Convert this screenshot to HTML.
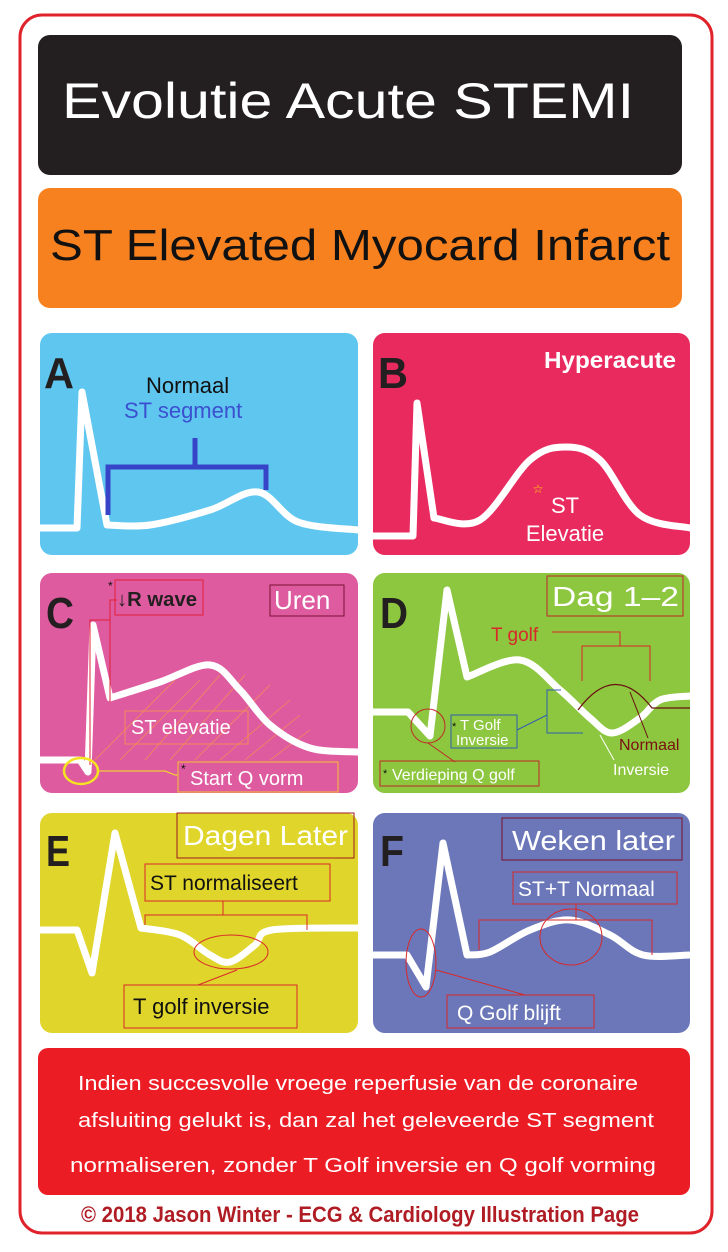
<!DOCTYPE html>
<html><head><meta charset="utf-8"><style>
html,body{margin:0;padding:0;background:#fff;width:728px;height:1252px;overflow:hidden}
svg{display:block}
text{font-family:"Liberation Sans",sans-serif}
</style></head><body>
<svg id="s" width="728" height="1252" viewBox="0 0 728 1252">
<rect x="20" y="15" width="692" height="1218" rx="22" fill="#fff" stroke="#e0222a" stroke-width="3"/>
<rect x="38" y="35" width="644" height="140" rx="12" fill="#231f20"/>
<text x="62" y="118" fill="#fff" font-size="50" textLength="572" lengthAdjust="spacingAndGlyphs">Evolutie Acute STEMI</text>
<rect x="38" y="188" width="644" height="120" rx="12" fill="#f7801f"/>
<text x="50" y="260" fill="#111" font-size="44" textLength="620" lengthAdjust="spacingAndGlyphs">ST Elevated Myocard Infarct</text>

<rect x="40" y="333" width="318" height="222" rx="12" fill="#5ec6ef"/>
<rect x="373" y="333" width="317" height="222" rx="12" fill="#e92a5f"/>
<rect x="40" y="573" width="318" height="220" rx="12" fill="#de5ba0"/>
<rect x="373" y="573" width="317" height="220" rx="12" fill="#8dc63f"/>
<rect x="40" y="813" width="318" height="220" rx="12" fill="#e0d52a"/>
<rect x="373" y="813" width="317" height="220" rx="12" fill="#6b77b9"/>

<g font-family="Liberation Sans" font-weight="bold" fill="#231f20" font-size="44">
<text x="44" y="388" textLength="30" lengthAdjust="spacingAndGlyphs">A</text>
<text x="378" y="388" textLength="30" lengthAdjust="spacingAndGlyphs">B</text>
<text x="46" y="628" textLength="28" lengthAdjust="spacingAndGlyphs">C</text>
<text x="380" y="628" textLength="28" lengthAdjust="spacingAndGlyphs">D</text>
<text x="46" y="866" textLength="24" lengthAdjust="spacingAndGlyphs">E</text>
<text x="380" y="866" textLength="24" lengthAdjust="spacingAndGlyphs">F</text>
</g>

<g stroke="#f28a5a" stroke-width="1" opacity="0.8">
<line x1="95" y1="760" x2="175" y2="680"/><line x1="120" y1="760" x2="200" y2="680"/><line x1="145" y1="760" x2="220" y2="675"/>
<line x1="170" y1="760" x2="245" y2="675"/><line x1="195" y1="760" x2="270" y2="685"/><line x1="220" y1="760" x2="290" y2="700"/>
<line x1="245" y1="760" x2="300" y2="715"/><line x1="270" y1="760" x2="310" y2="730"/>
</g>

<g id="waves" fill="none" stroke="#fff" stroke-width="7" stroke-linejoin="round" stroke-linecap="round"></g>

<text x="146" y="393" font-size="22" fill="#111">Normaal</text>
<text x="124" y="418" font-size="22" fill="#3b4fd0">ST segment</text>
<path d="M108,515 V467 H266 V490 M195,467 V438" stroke="#3844c8" stroke-width="5" fill="none"/>

<text x="676" y="368" font-size="23" font-weight="bold" fill="#fff" text-anchor="end" textLength="132" lengthAdjust="spacingAndGlyphs">Hyperacute</text>
<text x="538" y="493" font-size="12" fill="#ffe000" text-anchor="middle">☆</text>
<text x="565" y="513" font-size="22" fill="#fff" text-anchor="middle">ST</text>
<text x="565" y="541" font-size="22" fill="#fff" text-anchor="middle">Elevatie</text>

<path d="M90,765 V620 H110 V600 H117 M110,620 V702" stroke="#e0223a" stroke-width="1" fill="none"/>
<rect x="115" y="580" width="88" height="35" fill="none" stroke="#e0223a"/>
<text x="108" y="590" font-size="12" fill="#111">*</text>
<text x="117" y="606" font-size="20" font-weight="bold" fill="#231f20" textLength="80" lengthAdjust="spacingAndGlyphs">↓R wave</text>
<rect x="270" y="585" width="74" height="31" fill="none" stroke="#7a1030"/>
<text x="274" y="609" font-size="26" fill="#fff">Uren</text>
<rect x="125" y="711" width="123" height="33" fill="none" stroke="#f28a5a"/>
<text x="131" y="734" font-size="20" fill="#fff">ST elevatie</text>
<ellipse cx="81" cy="771" rx="17" ry="13" fill="none" stroke="#f5e520" stroke-width="2.5"/>
<path d="M98,771 H165 L175,775 H178" stroke="#f5e520" stroke-width="1" fill="none"/>
<rect x="178" y="762" width="160" height="30" fill="none" stroke="#f5c030"/>
<text x="181" y="773" font-size="12" fill="#111">*</text>
<text x="190" y="785" font-size="20" fill="#fff">Start Q vorm</text>

<rect x="547" y="576" width="136" height="40" fill="none" stroke="#c0282a"/>
<text x="552" y="606" font-size="28" fill="#fff" textLength="127" lengthAdjust="spacingAndGlyphs">Dag 1–2</text>
<text x="491" y="641" font-size="19" fill="#d8282a">T golf</text>
<path d="M552,632 H620 V646 M582,681 V646 H650 V681" stroke="#d8282a" stroke-width="1" fill="none"/>
<path d="M578,710 Q615,660 652,708 H690" stroke="#6a1010" stroke-width="1.2" fill="none"/>
<path d="M630,692 L648,738" stroke="#6a1010" stroke-width="1" />
<text x="619" y="750" font-size="16" fill="#7a1010">Normaal</text>
<path d="M600,735 L614,760" stroke="#fff" stroke-width="1"/>
<text x="613" y="775" font-size="16" fill="#fff">Inversie</text>
<ellipse cx="428" cy="726" rx="17" ry="17" fill="none" stroke="#c0282a" stroke-width="1"/>
<path d="M428,743 L455,762" stroke="#c0282a" stroke-width="1"/>
<rect x="380" y="761" width="159" height="25" fill="none" stroke="#c0282a"/>
<text x="383" y="777" font-size="11" fill="#111">*</text>
<text x="392" y="780" font-size="16" fill="#fff">Verdieping Q golf</text>
<rect x="451" y="715" width="66" height="33" fill="none" stroke="#3060b0"/>
<text x="452" y="730" font-size="11" fill="#111">*</text>
<text x="460" y="730" font-size="15" fill="#fff">T Golf</text>
<text x="456" y="745" font-size="15" fill="#fff">Inversie</text>
<path d="M517,730 L547,715 M561,690 H547 V733 H583" stroke="#3060b0" stroke-width="1" fill="none"/>

<rect x="177" y="813" width="177" height="45" fill="none" stroke="#a01c20"/>
<text x="183" y="845" font-size="28" fill="#fff" textLength="165" lengthAdjust="spacingAndGlyphs">Dagen Later</text>
<rect x="145" y="864" width="185" height="37" fill="none" stroke="#d8282a"/>
<text x="150" y="890" font-size="21" fill="#111">ST normaliseert</text>
<path d="M145,925 V915 H307 V930 M223,901 V915" stroke="#d8282a" stroke-width="1" fill="none"/>
<ellipse cx="231" cy="952" rx="37" ry="17" fill="none" stroke="#d8282a" stroke-width="1"/>
<path d="M237,970 L198,985" stroke="#d8282a" stroke-width="1"/>
<rect x="124" y="985" width="173" height="43" fill="none" stroke="#d8282a"/>
<text x="133" y="1014" font-size="22" fill="#111">T golf inversie</text>

<rect x="502" y="818" width="180" height="42" fill="none" stroke="#7a1030"/>
<text x="512" y="850" font-size="28" fill="#fff" textLength="163" lengthAdjust="spacingAndGlyphs">Weken later</text>
<rect x="513" y="872" width="164" height="32" fill="none" stroke="#d8282a"/>
<text x="518" y="896" font-size="21" fill="#fff">ST+T Normaal</text>
<path d="M479,950 V947 V920 H652 V955 M576,904 V920" stroke="#d8282a" stroke-width="1" fill="none"/>
<ellipse cx="571" cy="937" rx="31" ry="28" fill="none" stroke="#d8282a" stroke-width="1"/>
<ellipse cx="421" cy="963" rx="15" ry="34" fill="none" stroke="#d8282a" stroke-width="1"/>
<path d="M436,970 L525,995" stroke="#d8282a" stroke-width="1"/>
<rect x="447" y="995" width="147" height="33" fill="none" stroke="#d8282a"/>
<text x="457" y="1020" font-size="21" fill="#fff">Q Golf blijft</text>

<rect x="38" y="1048" width="652" height="147" rx="10" fill="#ec1c24"/>
<g fill="#fff" font-size="20">
<text x="78" y="1090" textLength="560" lengthAdjust="spacingAndGlyphs">Indien succesvolle vroege reperfusie van de coronaire</text>
<text x="78" y="1127" textLength="576" lengthAdjust="spacingAndGlyphs">afsluiting gelukt is, dan zal het geleveerde ST segment</text>
<text x="70" y="1172" textLength="586" lengthAdjust="spacingAndGlyphs">normaliseren, zonder T Golf inversie en Q golf vorming</text>
</g>
<text x="81" y="1222" font-size="22" font-weight="bold" fill="#b01c24" textLength="558" lengthAdjust="spacingAndGlyphs">© 2018 Jason Winter - ECG &amp; Cardiology Illustration Page</text>
</svg>
<script>
const waveA = [[40,528],[77,528],[82,392],[107,525],[150,525],[210,510],[258,492],[298,522],[358,530]];
const waveB = [[373,536],[413,536],[417,403],[434,518],[480,520],[530,460],[566,447],[600,460],[640,515],[690,528]];
const waveC = [[40,760],[80,760],[88,772],[93,625],[110,698],[160,682],[210,665],[240,690],[270,725],[310,748],[358,752]];
const waveD = [[373,712],[408,712],[430,736],[447,590],[467,677],[520,660],[560,690],[590,718],[612,733],[640,718],[660,700],[690,696]];
const waveE = [[40,930],[77,930],[92,973],[115,833],[141,928],[180,935],[210,955],[230,962],[255,945],[272,930],[358,928]];
const waveF = [[373,955],[407,955],[426,987],[443,843],[467,955],[490,952],[530,930],[570,920],[610,935],[643,955],[690,955]];
const sharpUntil = [3,3,4,4,4,4];
const waves = [waveA,waveB,waveC,waveD,waveE,waveF];
const names = ['wave-a','wave-b','wave-c','wave-d','wave-e','wave-f'];
const g = document.getElementById('waves');
waves.forEach((pts,i)=>{
  const s = sharpUntil[i];
  let d = 'M'+pts[0][0]+','+pts[0][1];
  for(let k=1;k<=s;k++){d+=' L'+pts[k][0]+','+pts[k][1];}
  for(let k=s;k<pts.length-1;k++){
    const p0=pts[Math.max(k-1,s)], p1=pts[k], p2=pts[k+1], p3=pts[Math.min(k+2,pts.length-1)];
    const c1=[p1[0]+(p2[0]-p0[0])/6, p1[1]+(p2[1]-p0[1])/6];
    const c2=[p2[0]-(p3[0]-p1[0])/6, p2[1]-(p3[1]-p1[1])/6];
    d+=' C'+c1[0]+','+c1[1]+' '+c2[0]+','+c2[1]+' '+p2[0]+','+p2[1];
  }
  const p = document.createElementNS('http://www.w3.org/2000/svg','path');
  p.setAttribute('d',d);
  
  
  g.appendChild(p);
});
</script>
</body></html>
